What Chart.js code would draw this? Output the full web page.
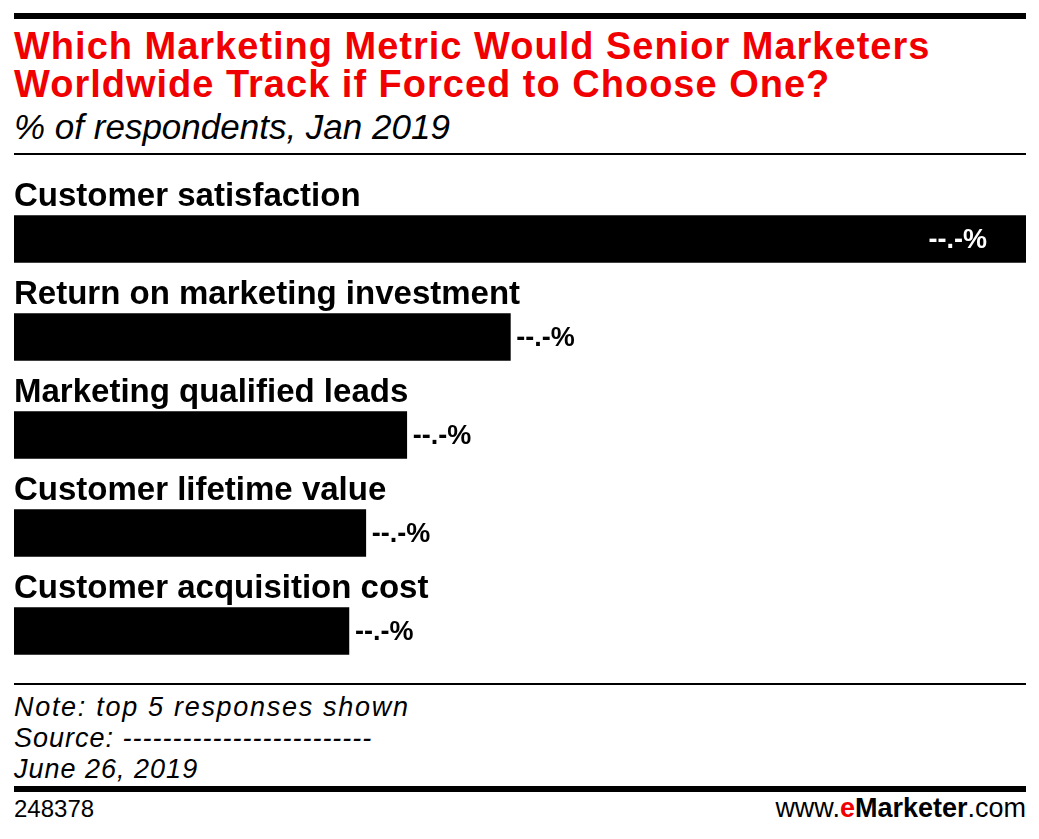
<!DOCTYPE html>
<html>
<head>
<meta charset="utf-8">
<script src="https://cdn.jsdelivr.net/npm/chart.js@4"></script>
<style>
  html, body { margin: 0; padding: 0; background: #fff; }
  body { width: 1039px; height: 839px; position: relative; overflow: hidden; font-family: "Liberation Sans", Arial, sans-serif; }
  .rule { position: absolute; left: 14px; width: 1012px; background: #000; }
  .txt { position: absolute; white-space: nowrap; }
  #title { left: 14px; top: 27px; font-size: 38px; line-height: 38px; font-weight: bold; color: #f00000; letter-spacing: 1px; }
  #subtitle { left: 14px; top: 109px; font-size: 35px; line-height: 35px; font-style: italic; color: #000; }
  #notes { left: 14px; top: 692px; font-size: 27px; line-height: 31px; font-style: italic; letter-spacing: 1px; color: #000; }
  #notes .wide { letter-spacing: 1.7px; }
  #chartId { left: 14px; top: 797px; font-size: 24px; line-height: 24px; color: #000; }
  #brand { right: 13px; top: 795px; font-size: 27px; line-height: 27px; color: #000; }
  #brand b { font-weight: bold; }
  #brand .e { color: #f00000; }
  #chartWrap { position: absolute; left: 14px; top: 170px; width: 1012px; height: 510px; }
</style>
</head>
<body>
<div class="rule" style="top:13px;height:6px"></div>
<div id="title" class="txt">Which Marketing Metric Would Senior Marketers<br>Worldwide Track if Forced to Choose One?</div>
<div id="subtitle" class="txt">% of respondents, Jan 2019</div>
<div class="rule" style="top:153px;height:2px"></div>

<div id="chartWrap"><canvas id="barChart" width="1012" height="510"></canvas></div>

<div class="rule" style="top:683px;height:2px"></div>
<div id="notes" class="txt"><span class="wide">Note: top 5 responses shown</span><br>Source: -------------------------<br>June 26, 2019</div>
<div class="rule" style="top:786px;height:6px"></div>
<div id="chartId" class="txt">248378</div>
<div id="brand" class="txt">www.<b class="e">e</b><b>Marketer</b>.com</div>

<script>
// 카테고리 & 값 (그림에서 막대 길이로 추정)
const metrics = [
    'Customer satisfaction',
    'Return on marketing investment',
    'Marketing qualified leads',
    'Customer lifetime value',
    'Customer acquisition cost'
];
const shares = [42.0, 20.6, 16.3, 14.6, 13.9];
const shareLabels = ['--.-%', '--.-%', '--.-%', '--.-%', '--.-%'];

// 막대 위 카테고리 이름 + 값 라벨
const barLabels = {
    id: 'barLabels',
    afterDatasetsDraw(chart) {
        const ctx = chart.ctx;
        const meta = chart.getDatasetMeta(0);
        ctx.save();
        meta.data.forEach((bar, i) => {
            const p = bar.getProps(['x', 'y', 'base', 'height'], true);
            // category name above the bar
            ctx.font = 'bold 33px "Liberation Sans", Arial, sans-serif';
            ctx.fillStyle = '#000';
            ctx.textAlign = 'left';
            ctx.textBaseline = 'alphabetic';
            ctx.fillText(metrics[i], chart.chartArea.left, p.y - p.height / 2 - 10);

            // value label: inside the longest bar, outside the rest
            ctx.font = 'bold 27px "Liberation Sans", Arial, sans-serif';
            ctx.textBaseline = 'middle';
            if (i === 0) {
                ctx.fillStyle = '#fff';
                ctx.textAlign = 'right';
                ctx.fillText(shareLabels[i], p.x - 39, p.y + 2);
            } else {
                ctx.fillStyle = '#000';
                ctx.textAlign = 'left';
                ctx.fillText(shareLabels[i], p.x + 6, p.y + 2);
            }
        });
        ctx.restore();
    }
};

new Chart(document.getElementById('barChart'), {
    type: 'bar',
    data: {
        labels: metrics,
        datasets: [{ data: shares, backgroundColor: '#000', borderWidth: 0, barThickness: 47 }]
    },
    options: {
        indexAxis: 'y',
        responsive: false,
        animation: false,
        layout: { padding: { top: 20, bottom: 0, left: 0, right: 0 } },
        plugins: { legend: { display: false }, tooltip: { enabled: false } },
        scales: {
            x: { display: false, min: 0, max: shares[0] },
            y: { display: false }
        }
    },
    plugins: [barLabels]
});
</script>
</body>
</html>
